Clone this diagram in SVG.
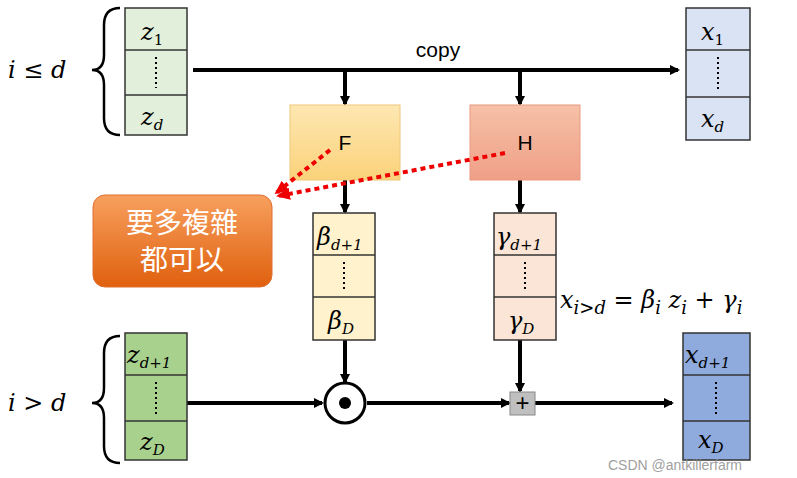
<svg xmlns="http://www.w3.org/2000/svg" width="797" height="478" viewBox="0 0 797 478">
<defs>
<marker id="ah" markerWidth="10" markerHeight="10" refX="8" refY="5" orient="auto" markerUnits="userSpaceOnUse"><path d="M0,0 L10,5 L0,10 z" fill="#000"/></marker>
<marker id="rh" markerWidth="14" markerHeight="12" refX="12" refY="6" orient="auto" markerUnits="userSpaceOnUse"><path d="M0,0 L14,6 L0,12 z" fill="#e00"/></marker>
<linearGradient id="gf" x1="0" y1="0" x2="0" y2="1"><stop offset="0" stop-color="#fde7b2"/><stop offset="1" stop-color="#fbd27a"/></linearGradient>
<linearGradient id="gh" x1="0" y1="0" x2="0" y2="1"><stop offset="0" stop-color="#f6c1a8"/><stop offset="1" stop-color="#ef9f86"/></linearGradient>
<linearGradient id="go" x1="0" y1="0" x2="0" y2="1"><stop offset="0" stop-color="#f7a05e"/><stop offset="1" stop-color="#e0600e"/></linearGradient>
</defs>
<style>
.m{font-family:"DejaVu Serif","Liberation Serif",serif;font-style:italic;font-size:24px;fill:#000}
.c{stroke:#333;stroke-width:1.5}
.l{stroke:#000;stroke-width:4;fill:none}
.s{font-family:"Liberation Sans",sans-serif;font-size:21px}
.d{stroke:#000;stroke-width:2;stroke-dasharray:2,3}
</style>
<g id="connectors">
<line class="l" x1="193" y1="70" x2="678" y2="70" marker-end="url(#ah)"/>
<line class="l" x1="345" y1="70" x2="345" y2="104" marker-end="url(#ah)"/>
<line class="l" x1="520" y1="70" x2="520" y2="104" marker-end="url(#ah)"/>
<line class="l" x1="345" y1="180" x2="345" y2="212" marker-end="url(#ah)"/>
<line class="l" x1="520" y1="180" x2="520" y2="212" marker-end="url(#ah)"/>
<line class="l" x1="345" y1="340" x2="345" y2="382" marker-end="url(#ah)"/>
<line class="l" x1="520" y1="340" x2="520" y2="391" marker-end="url(#ah)"/>
<line class="l" x1="187" y1="403" x2="322" y2="403" marker-end="url(#ah)"/>
<line class="l" x1="367" y1="403" x2="509" y2="403" marker-end="url(#ah)"/>
<line class="l" x1="535" y1="403" x2="672" y2="403" marker-end="url(#ah)"/>
<text x="438" y="57" class="s" text-anchor="middle">copy</text>
</g>
<g id="brace-top"><path d="M120,8 Q104,8 104,25 L104,55 Q104,70 92,70 Q104,70 104,85 L104,118 Q104,135 120,135" fill="none" stroke="#000" stroke-width="2.5"/><text x="8" y="78" class="m">i ≤ d</text></g>
<g id="z-top">
<rect x="125" y="8" width="62" height="127" fill="#e2efda" class="c"/>
<line x1="125" y1="50" x2="187" y2="50" class="c"/><line x1="125" y1="95" x2="187" y2="95" class="c"/>
<line x1="156" y1="57" x2="156" y2="88" class="d"/>
<text x="141" y="40" class="m">z<tspan font-size="15" dy="5" font-style="normal">1</tspan></text>
<text x="141" y="125" class="m">z<tspan font-size="15" dy="5">d</tspan></text>
</g>
<g id="x-top">
<rect x="686" y="8" width="64" height="132" fill="#dae3f3" class="c"/>
<line x1="686" y1="50" x2="750" y2="50" class="c"/><line x1="686" y1="97" x2="750" y2="97" class="c"/>
<line x1="718" y1="57" x2="718" y2="90" class="d"/>
<text x="701" y="40" class="m">x<tspan font-size="15" dy="5" font-style="normal">1</tspan></text>
<text x="701" y="127" class="m">x<tspan font-size="15" dy="5">d</tspan></text>
</g>
<g id="F"><rect x="290" y="105" width="110" height="75" fill="url(#gf)" stroke="#f0c878"/><text x="345" y="150" class="s" text-anchor="middle">F</text></g>
<g id="H"><rect x="470" y="105" width="110" height="75" fill="url(#gh)" stroke="#e89a80"/><text x="525" y="150" class="s" text-anchor="middle">H</text></g>
<g id="note"><rect x="93" y="195" width="179" height="92" rx="12" fill="url(#go)" stroke="#e07030"/>
<text x="182" y="233" text-anchor="middle" font-family="'Noto Sans CJK TC',sans-serif" font-size="28" fill="#fff">要多複雜</text>
<text x="182" y="270" text-anchor="middle" font-family="'Noto Sans CJK TC',sans-serif" font-size="28" fill="#fff">都可以</text></g>
<g id="red-connectors">
<line x1="330" y1="150" x2="276" y2="193" stroke="#e00" stroke-width="4" stroke-dasharray="5,4" marker-end="url(#rh)"/>
<line x1="505" y1="153" x2="278" y2="196" stroke="#e00" stroke-width="4" stroke-dasharray="5,4" marker-end="url(#rh)"/>
</g>
<g id="beta">
<rect x="313" y="213" width="62" height="127" fill="#fff2cc" class="c"/>
<line x1="313" y1="255" x2="375" y2="255" class="c"/><line x1="313" y1="297" x2="375" y2="297" class="c"/>
<line x1="344" y1="262" x2="344" y2="290" class="d"/>
<text x="317" y="245" class="m">β<tspan font-size="15" dy="5">d+1</tspan></text>
<text x="328" y="329" class="m">β<tspan font-size="15" dy="5">D</tspan></text>
</g>
<g id="gamma">
<rect x="494" y="213" width="62" height="127" fill="#fbe5d6" class="c"/>
<line x1="494" y1="255" x2="556" y2="255" class="c"/><line x1="494" y1="297" x2="556" y2="297" class="c"/>
<line x1="525" y1="262" x2="525" y2="290" class="d"/>
<text x="496" y="245" class="m">γ<tspan font-size="15" dy="5">d+1</tspan></text>
<text x="508" y="329" class="m">γ<tspan font-size="15" dy="5">D</tspan></text>
</g>
<g id="formula"><text x="560" y="308" class="m" font-size="28">x<tspan font-size="18" dy="6">i&gt;d</tspan><tspan dy="-6" font-style="normal"> = </tspan>β<tspan font-size="18" dy="6">i</tspan><tspan dy="-6"> z</tspan><tspan font-size="18" dy="6">i</tspan><tspan dy="-6" font-style="normal">  + </tspan>γ<tspan font-size="18" dy="6">i</tspan></text></g>
<g id="brace-bot"><path d="M120,336 Q104,336 104,353 L104,388 Q104,403 92,403 Q104,403 104,418 L104,446 Q104,463 120,463" fill="none" stroke="#000" stroke-width="2.5"/><text x="8" y="411" class="m">i &gt; d</text></g>
<g id="z-bot">
<rect x="125" y="333" width="62" height="127" fill="#a9d18e" class="c"/>
<line x1="125" y1="375" x2="187" y2="375" class="c"/><line x1="125" y1="421" x2="187" y2="421" class="c"/>
<line x1="156" y1="382" x2="156" y2="414" class="d"/>
<text x="127" y="363" class="m">z<tspan font-size="15" dy="5">d+1</tspan></text>
<text x="140" y="450" class="m">z<tspan font-size="15" dy="5">D</tspan></text>
</g>
<g id="odot"><circle cx="345" cy="403" r="20" fill="#fff" stroke="#000" stroke-width="3"/><circle cx="345" cy="403" r="6" fill="#000"/></g>
<g id="plus"><rect x="510" y="392" width="25" height="23" fill="#bfbfbf" stroke="#888"/><text x="522.5" y="411" text-anchor="middle" font-family="'Liberation Sans',sans-serif" font-size="24">+</text></g>
<g id="x-bot">
<rect x="683" y="333" width="67" height="127" fill="#8faadc" class="c"/>
<line x1="683" y1="375" x2="750" y2="375" class="c"/><line x1="683" y1="421" x2="750" y2="421" class="c"/>
<line x1="716" y1="382" x2="716" y2="414" class="d"/>
<text x="685" y="363" class="m">x<tspan font-size="15" dy="5">d+1</tspan></text>
<text x="698" y="448" class="m">x<tspan font-size="15" dy="5">D</tspan></text>
</g>
<text x="608" y="470" font-family="'Liberation Sans',sans-serif" font-size="14" fill="#888" opacity="0.8">CSDN @antkillerfarm</text>
</svg>
